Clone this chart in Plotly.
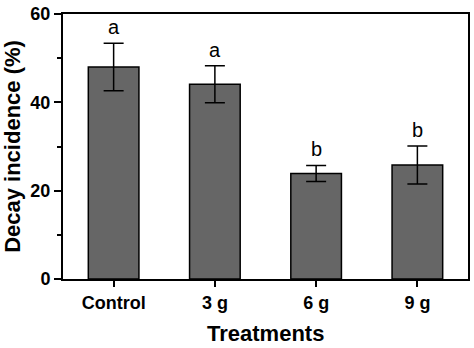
import plotly.graph_objects as go

categories = ["Control", "3 g", "6 g", "9 g"]
means = [48.0, 44.1, 23.9, 25.8]
errors = [5.4, 4.2, 1.8, 4.3]
letters = ["a", "a", "b", "b"]

fig = go.Figure()
fig.add_trace(go.Bar(
    x=categories, y=means, width=0.5,
    marker=dict(color="#666666", line=dict(color="black", width=1.5)),
    error_y=dict(type="data", array=errors, visible=True, color="black",
                 thickness=1.5, width=10),
))
for c, m, e, l in zip(categories, means, errors, letters):
    fig.add_annotation(x=c, y=m + e, text=l, showarrow=False, yanchor="bottom",
                       yshift=3, font=dict(family="Arial, Liberation Sans", size=20, color="black"))

fig.add_annotation(x=0.5, y=0, xref="paper", yref="paper", text="<b>Treatments</b>",
                   showarrow=False, yanchor="top", yshift=-40,
                   font=dict(family="Arial, Liberation Sans", size=22, color="black"))

fig.update_layout(
    width=474, height=348, margin=dict(l=63, r=4, t=10, b=69),
    plot_bgcolor="white", paper_bgcolor="white", showlegend=False,
    font=dict(family="Arial, Liberation Sans", color="black"),
    bargap=0.5,
)
fig.update_xaxes(
    showline=True, linecolor="black", linewidth=2, mirror=True, automargin=False,
    ticks="outside", ticklen=6, tickwidth=2, tickcolor="black",
    tickfont=dict(size=18, weight="bold"),
)
fig.update_yaxes(
    range=[0, 60], tickvals=[0, 20, 40, 60], showgrid=False, zeroline=False,
    showline=True, linecolor="black", linewidth=2, mirror=True,
    ticks="outside", ticklen=7, tickwidth=2, tickcolor="black",
    minor=dict(tickvals=[10, 30, 50], ticks="outside", ticklen=4, tickwidth=2, tickcolor="black"),
    tickfont=dict(size=18, weight="bold"), ticklabeloverflow="allow",
    title=dict(text="<b>Decay incidence (%)</b>", font=dict(size=22), standoff=6),
)
fig.write_html("out.html")
